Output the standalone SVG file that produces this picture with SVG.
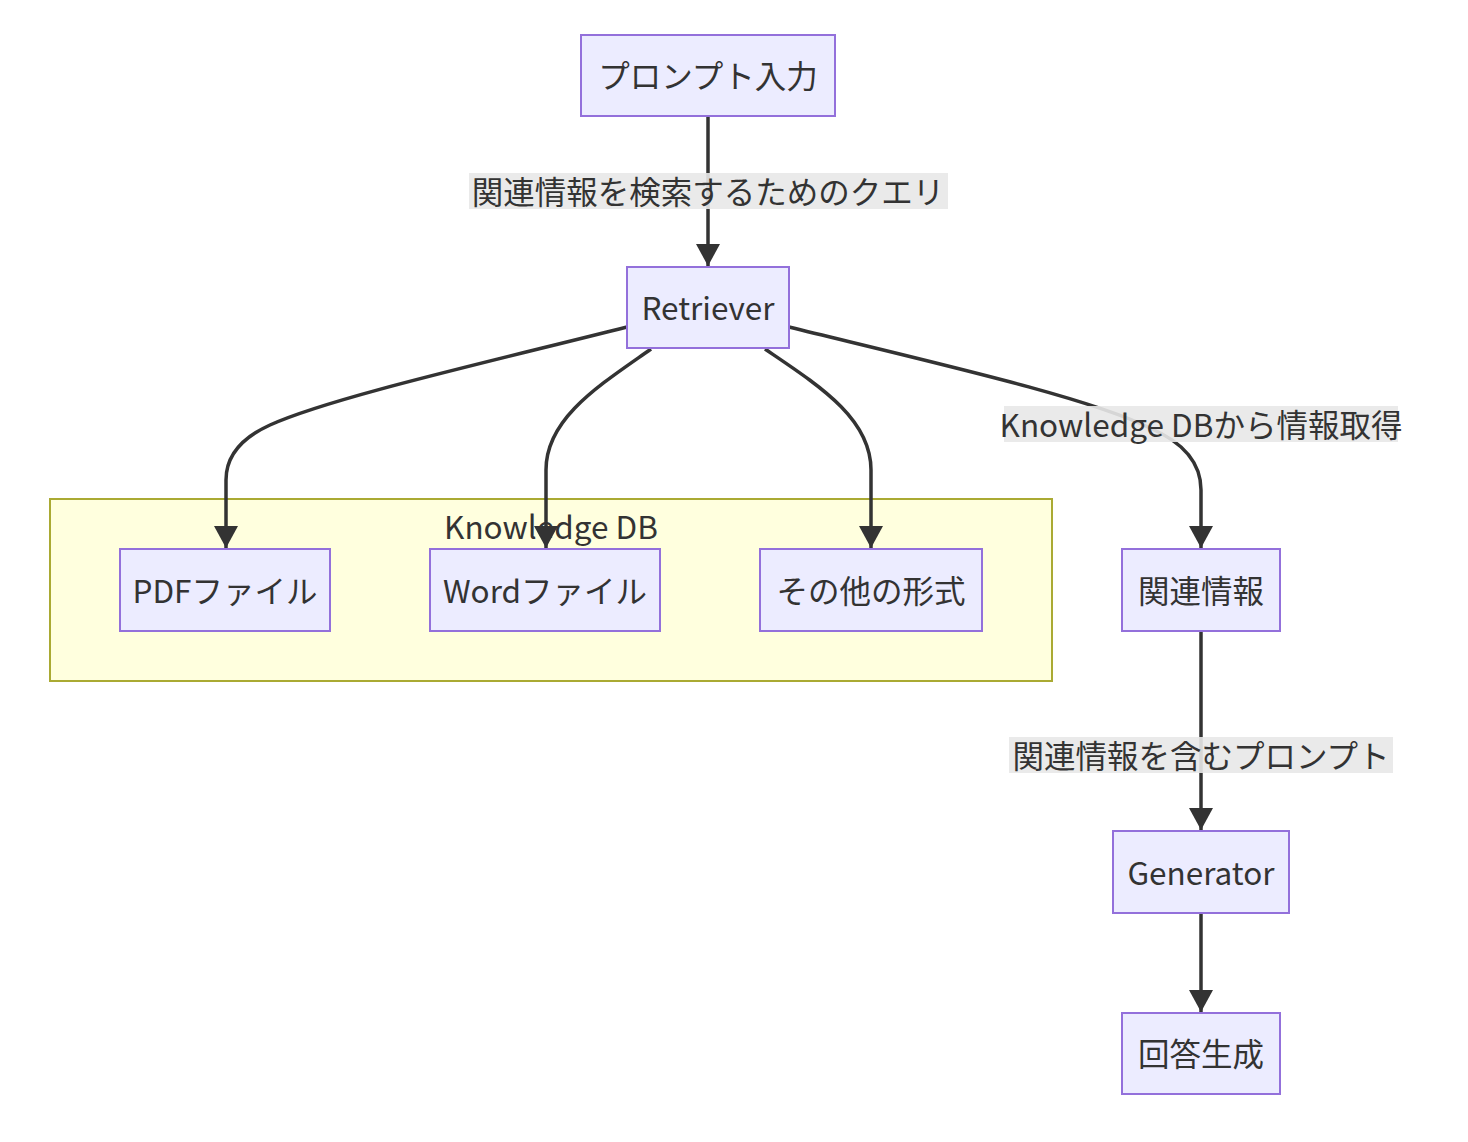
<svg xmlns="http://www.w3.org/2000/svg" width="1468" height="1142" viewBox="0 0 1468 1142">
<defs>
<style>
.node rect{fill:#ECECFF;stroke:#9370DB;stroke-width:2}
.t{font-family:"Noto Sans CJK JP","Noto Sans",sans-serif;font-size:31.5px;fill:#333;text-anchor:middle;dominant-baseline:central}
.edge{fill:none;stroke:#333;stroke-width:3.5;marker-end:url(#arr)}
.lbg{fill:#e8e8e8;opacity:0.9}
</style>
<marker id="arr" markerUnits="userSpaceOnUse" viewBox="0 0 22 24" refX="22" refY="12" markerWidth="22" markerHeight="24" orient="auto">
<path d="M0,0 L22,12 L0,24 Z" fill="#333"/>
</marker>
</defs>
<rect width="1468" height="1142" fill="#fff"/>
<g id="cluster-knowledge-db">
<rect x="50" y="499" width="1002" height="182" fill="#ffffde" stroke="#aaaa33" stroke-width="2"/>
<text class="t" x="551" y="525">Knowledge DB</text>
</g>
<g id="edges">
<path class="edge" d="M708,117 L708,266"/>
<path class="edge" d="M627,327 C480,364 330,398 270,425 Q226,445 226,480 L226,548"/>
<path class="edge" d="M651,349 C600,385 546,418 546,470 L546,548"/>
<path class="edge" d="M765,349 C818,385 871,418 871,470 L871,548"/>
<path class="edge" d="M789,327 C940,364 1090,398 1150,428 Q1201,450 1201,490 L1201,548"/>
<path class="edge" d="M1201,632 L1201,830"/>
<path class="edge" d="M1201,914 L1201,1012"/>
</g>
<g id="edge-labels">
<rect class="lbg" x="469" y="173" width="479" height="36"/>
<text class="t" x="708" y="190">関連情報を検索するためのクエリ</text>
<rect class="lbg" x="1004" y="406" width="394" height="36"/>
<text class="t" x="1201" y="423">Knowledge DBから情報取得</text>
<rect class="lbg" x="1009" y="737" width="384" height="36"/>
<text class="t" x="1201" y="754">関連情報を含むプロンプト</text>
</g>
<g id="node-prompt" class="node"><rect x="581" y="35" width="254" height="81"/><text class="t" x="708" y="74">プロンプト入力</text></g>
<g id="node-retriever" class="node"><rect x="627" y="267" width="162" height="81"/><text class="t" x="708" y="306">Retriever</text></g>
<g id="node-pdf" class="node"><rect x="120" y="549" width="210" height="82"/><text class="t" x="225" y="589">PDFファイル</text></g>
<g id="node-word" class="node"><rect x="430" y="549" width="230" height="82"/><text class="t" x="545" y="589">Wordファイル</text></g>
<g id="node-other" class="node"><rect x="760" y="549" width="222" height="82"/><text class="t" x="871" y="589">その他の形式</text></g>
<g id="node-related" class="node"><rect x="1122" y="549" width="158" height="82"/><text class="t" x="1201" y="589">関連情報</text></g>
<g id="node-generator" class="node"><rect x="1113" y="831" width="176" height="82"/><text class="t" x="1201" y="871">Generator</text></g>
<g id="node-answer" class="node"><rect x="1122" y="1013" width="158" height="81"/><text class="t" x="1201" y="1052">回答生成</text></g>
</svg>
